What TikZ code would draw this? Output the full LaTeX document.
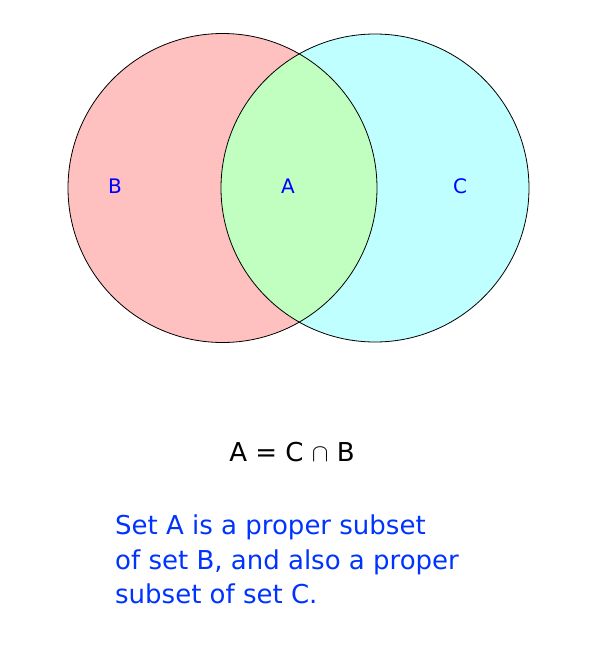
\documentclass[tikz,border=0pt]{standalone}
\usepackage{fontspec}
\setmainfont{DejaVu Sans}
\begin{document}
\begin{tikzpicture}[x=1pt,y=-1pt,
  lbl/.style={text=blue,font=\fontsize{20}{24}\selectfont,inner sep=0pt},
  txt/.style={font=\fontsize{26}{34.5}\selectfont,inner sep=0pt}]
\useasboundingbox (0,0) rectangle (600,659);
\definecolor{pinkf}{HTML}{FFC0C0}
\definecolor{greenf}{HTML}{C0FFC0}
\definecolor{cyanf}{HTML}{C0FFFF}
\definecolor{tblue}{HTML}{0033FF}
\fill[pinkf] (222.5,188) circle (154.5);
\fill[cyanf] (375,188) circle (154);
\begin{scope}
\clip (222.5,188) circle (154.5);
\fill[greenf] (375,188) circle (154);
\end{scope}
\draw[line width=0.8pt] (222.5,188) circle (154.5);
\draw[line width=0.8pt] (375,188) circle (154);
\node[lbl] (b) at (115,186) {B};
\node[lbl] (a) at (288,186) {A};
\node[lbl] (c) at (460,186) {C};
\node[txt,anchor=base] (eq) at (292,461) {A = C $\cap$ B};
\node[txt,text=tblue,anchor=north west,align=left] (t) at (115,515) {Set A is a proper subset\\of set B, and also a proper\\subset of set C.};
\end{tikzpicture}
\end{document}
